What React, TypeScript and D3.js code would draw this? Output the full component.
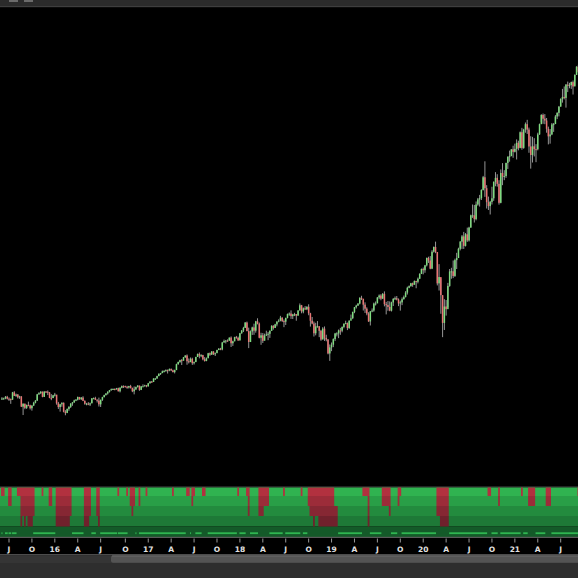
import React from "react";
import * as d3 from "d3";

// ---- Weekly bars (Friday-dated), first bar week ending 2015-06-05 ----
const FIRST_WEEK = "2015-06-05";
const firstOpen = 108.2;

const close2015 = [108.6,108.7,110.0,108.4,108.1,107.6,113.6,110.8,111.8,109.5,110.3,101.9,104.3,100.9,103.3,103.0,100.6,102.8,105.1,106.9,112.0,113.0,114.2,109.9,114.3,114.1,113.5,109.1,108.9,111.2,111.8];
const high2015 = [109.7,109.3,110.6,110.8,109.5,108.6,114.0,114.6,112.6,112.3,110.8,110.5,104.6,104.4,103.6,106.0,103.5,103.0,105.9,107.3,112.4,113.8,114.6,114.3,114.5,114.7,115.2,113.9,112.2,111.6,113.2];
const low2015 = [107.4,107.6,108.0,107.8,106.6,104.2,107.5,110.6,109.9,108.6,108.3,101.6,95.0,99.8,100.0,102.2,99.6,98.6,102.4,104.6,106.5,111.6,112.2,109.6,110.0,113.2,111.4,108.8,107.2,109.0,110.2];

const close2016 = [104.6,101.6,103.8,105.0,97.7,96.6,100.0,101.7,104.4,105.4,107.0,107.6,109.8,108.0,109.3,106.7,104.3,104.4,103.6,104.6,108.7,108.9,107.6,106.8,103.8,107.5,109.7,111.4,112.7,114.0,115.4,116.2,116.4,116.2,117.0,114.5,117.4,118.8,118.7,118.2,117.6,118.8,117.3,114.5,116.1,118.0,119.3,115.7,118.5,118.6,119.4,118.5];
const high2016 = [111.4,105.8,104.2,105.5,105.4,99.0,100.4,102.3,104.8,105.6,107.6,108.2,110.2,109.9,109.8,110.4,107.0,105.0,105.6,105.2,109.0,109.4,110.0,107.9,109.3,107.7,110.0,111.7,113.0,114.6,115.6,116.8,116.9,116.9,117.3,117.5,117.9,119.3,119.4,119.1,119.0,119.0,119.8,117.5,118.5,118.4,119.4,119.0,118.9,120.2,119.9,119.7];
const low2016 = [103.5,100.0,97.8,101.8,97.2,94.8,97.2,98.5,100.8,102.6,105.0,106.4,107.0,107.6,107.3,106.4,103.5,103.0,103.1,102.4,104.8,108.0,107.4,105.3,102.0,101.6,106.6,109.5,111.0,111.8,113.5,115.0,115.6,115.3,115.8,114.4,113.6,117.0,117.2,117.7,116.6,116.8,116.8,113.8,112.0,115.5,117.6,114.9,115.5,118.2,118.5,117.8];

const close2017 = [121.1,122.5,122.2,125.0,125.0,127.0,128.9,129.5,130.9,131.3,131.9,131.6,132.8,131.7,130.3,131.9,136.8,138.6,140.1,139.6,142.5,143.9,139.2,138.4,141.2,137.6,138.5,142.7,145.2,143.8,144.2,140.8,139.4,141.6,145.8,144.6,147.2,144.9,145.8,148.4,149.5,148.9,154.6,155.8,156.2,156.0,158.6,154.0,155.6,159.0,158.4,156.2];
const high2017 = [121.4,122.8,123.0,125.2,125.5,127.3,129.2,129.6,131.6,131.8,132.5,132.4,133.3,133.3,132.3,132.3,137.2,138.9,140.4,141.0,142.7,144.2,144.8,141.5,142.3,142.1,139.0,142.9,145.5,146.4,145.0,144.5,142.6,142.3,146.1,146.4,147.6,147.5,146.4,148.7,150.0,150.2,155.1,157.0,156.7,157.2,158.8,159.6,156.1,159.3,160.0,159.4];
const low2017 = [118.6,120.9,121.6,122.1,123.9,124.8,126.9,127.9,129.4,130.0,130.7,129.1,131.0,131.1,130.0,129.2,132.9,136.3,137.9,136.1,139.9,141.9,136.3,137.4,138.6,136.2,136.5,138.8,142.7,141.6,142.5,140.0,138.9,139.2,142.2,143.6,144.5,144.4,143.5,146.2,148.4,148.3,148.2,154.5,153.8,155.2,156.4,150.9,151.8,155.6,157.8,156.1];

const close2018 = [162.2,164.5,166.6,171.0,164.0,155.0,163.7,167.0,164.3,172.0,170.0,158.5,160.5,156.0,160.3,161.2,161.8,164.2,168.3,166.6,169.5,171.8,172.6,175.0,172.2,171.7,174.8,178.0,178.4,176.3,177.6,177.9,176.6,180.9,185.2,180.1,182.7,181.9,183.9,178.6,172.5,170.2,162.2,167.8,168.0,164.2,157.0,166.0,158.4,157.0,145.6,150.6];
const high2018 = [162.5,164.9,167.5,171.4,171.8,166.8,164.5,167.6,170.1,172.4,174.5,171.0,162.6,162.4,161.9,164.3,163.3,164.6,168.8,168.8,170.0,172.0,173.7,176.5,175.3,173.5,175.0,178.4,179.3,181.0,178.2,179.0,178.0,181.2,186.7,185.5,183.4,184.5,184.4,186.0,179.0,175.6,171.8,170.8,172.2,167.9,165.0,167.2,167.8,161.0,157.5,153.0];
const low2018 = [156.6,161.8,163.2,166.7,163.8,150.0,155.5,160.8,160.9,162.7,169.5,158.0,152.7,154.2,157.1,160.0,156.5,158.4,164.2,165.2,166.5,167.9,171.2,172.0,171.5,167.2,169.0,174.4,176.5,174.0,173.9,176.3,172.5,176.9,181.0,178.6,178.6,181.3,181.2,177.0,167.7,169.6,159.5,160.5,166.8,159.0,156.0,157.6,155.9,155.6,144.9,139.5];

const close2019 = [152.8,157.4,162.0,162.1,164.5,164.3,167.4,170.0,170.6,166.5,172.5,174.6,179.7,183.6,184.9,186.6,191.3,190.6,185.7,182.4,178.4,171.9,180.2,180.9,186.6,186.7,191.6,193.2,190.6,194.6,186.1,185.4,183.8,180.8,187.5,190.4,191.0,189.9,186.7,187.6,190.2,191.9,195.6,199.6,200.9,203.3,202.0,205.1,204.5,207.0,211.0,215.0];
const high2019 = [154.6,158.0,162.5,163.0,165.3,166.6,167.8,170.3,172.5,171.0,172.9,177.6,180.0,183.8,185.6,186.9,191.8,193.0,189.2,187.6,183.5,179.5,180.4,182.6,187.4,188.3,192.0,194.1,194.3,195.2,196.6,188.0,188.7,188.4,188.1,191.2,192.4,192.8,190.8,189.0,191.6,193.2,196.8,200.5,201.5,203.6,203.8,205.6,205.3,208.0,211.5,215.4];
const low2019 = [147.5,150.8,155.8,159.6,158.2,160.9,163.0,166.3,169.6,164.8,165.8,174.4,173.8,178.7,182.5,184.7,185.9,189.5,180.9,178.9,177.0,171.6,168.6,179.5,179.9,185.0,187.8,190.2,189.3,190.5,184.3,177.7,180.7,180.3,180.1,184.6,189.5,189.2,184.5,180.8,185.3,189.9,191.7,194.0,199.2,200.5,200.4,202.4,199.2,203.2,206.9,210.9];

const close2020 = [214.0,218.0,224.1,222.0,215.3,229.2,233.1,229.0,203.2,208.4,193.5,170.7,184.2,182.0,201.1,213.0,213.1,209.3,222.3,224.0,231.6,237.5,241.8,234.0,243.5,238.5,249.0,259.1,259.1,256.0,268.0,272.2,273.2,279.9,290.4,281.4,269.9,266.7,270.2,273.1,286.6,289.9,285.0,269.4,293.9,290.9,291.4,302.2,307.2,307.8,313.3,311.3,313.7];
const high2020 = [216.2,218.4,224.4,225.1,225.6,230.5,233.5,237.5,227.4,219.0,207.4,193.4,190.2,189.5,203.6,215.0,216.0,222.0,223.5,228.3,232.5,237.9,242.9,245.5,244.5,249.0,249.7,259.7,268.0,267.6,270.5,273.4,275.9,280.5,291.5,303.5,283.9,274.5,271.0,282.6,287.0,294.6,292.9,288.0,296.8,302.0,296.2,302.3,307.6,312.3,313.6,316.3,318.0];
const low2020 = [210.6,211.9,217.1,220.0,214.8,214.9,228.5,228.0,201.5,197.3,178.2,159.0,164.9,176.7,183.5,200.4,207.0,207.5,208.5,215.0,225.0,230.3,231.5,231.5,233.5,237.3,237.6,249.0,257.0,253.2,255.0,267.0,266.3,271.7,279.5,274.3,264.7,263.5,259.8,268.0,271.0,283.0,282.7,267.9,269.0,283.9,288.0,289.9,297.2,303.2,307.7,306.4,310.8];

const close2021 = [318.7,314.3,327.4,314.5,329.6,334.0,329.6,315.7,308.7,315.8,313.5,313.4,325.6,334.0,341.6,338.5,337.0,330.2,324.0,325.6,333.8,334.1,340.3,343.3,348.4,354.7,356.4,355.6,366.5,365.6,366.2,368.6,365.0,374.5,381.3,377.0];
const high2021 = [321.5,320.4,328.0,331.0,330.2,335.4,337.6,331.2,324.1,323.6,322.5,317.6,327.0,334.5,342.2,342.8,342.3,339.1,332.0,330.0,335.0,335.0,341.5,343.8,349.0,355.3,363.0,365.0,367.0,369.0,368.0,369.0,369.9,375.0,381.6,382.8];
const low2021 = [305.0,312.5,314.9,313.0,313.8,327.0,326.0,310.5,297.5,302.5,307.5,302.8,312.5,325.2,335.8,334.3,334.0,327.0,317.4,318.0,325.0,327.7,334.7,338.2,340.4,348.5,351.7,354.4,347.6,360.4,363.5,363.0,358.4,365.6,374.5,376.0];

// ---- Lower trend panel: weeks (bar indices) where each band is red ----
const redBand1 = [[0,1],[4,5],[9,18],[23,23],[27,28],[31,39],[47,50],[54,55],[66,66],[71,71],[73,75],[78,78],[82,82],[97,97],[105,106],[108,109],[114,115],[134,134],[139,140],[146,151],[160,160],[170,170],[174,188],[205,208],[216,220],[225,226],[247,253],[276,277],[282,282],[295,295],[299,302],[309,311],[327,327]];
const redBand2 = [[4,5],[11,18],[27,28],[31,39],[47,50],[54,55],[73,75],[78,78],[108,108],[140,140],[146,151],[174,188],[208,208],[216,220],[225,225],[247,253],[282,282],[299,302],[309,311]];
const redBand3 = [[11,18],[31,39],[47,50],[54,55],[74,74],[140,140],[146,148],[175,190],[208,208],[220,220],[247,253]];
const redBand4 = [[11,11],[13,13],[15,17],[31,38],[47,49],[55,55],[177,177],[180,190],[208,208],[249,253]];
const signalRuns = [[0,0],[2,3],[4,5],[6,8],[18,30],[40,46],[51,53],[56,65],[66,71],[76,76],[78,104],[107,107],[110,113],[117,133],[135,138],[141,145],[152,159],[161,169],[171,173],[191,204],[209,215],[221,224],[227,246],[254,275],[278,281],[283,294],[296,298],[303,308],[312,327]];

const quarterLetters: Record<number, string> = { 3: "A", 6: "J", 9: "O" };

const closes = [...close2015, ...close2016, ...close2017, ...close2018, ...close2019, ...close2020, ...close2021];
const highs = [...high2015, ...high2016, ...high2017, ...high2018, ...high2019, ...high2020, ...high2021];
const lows = [...low2015, ...low2016, ...low2017, ...low2018, ...low2019, ...low2020, ...low2021];

const W = 578;
const H = 578;

export default function App() {
  const n = closes.length;
  const start = new Date(FIRST_WEEK + "T00:00:00");
  const dates = d3.range(n).map((i) => d3.timeDay.offset(start, 7 * i));
  const bars = dates.map((d, i) => ({
    date: d,
    i,
    o: i === 0 ? firstOpen : closes[i - 1],
    h: highs[i],
    l: lows[i],
    c: closes[i],
  }));

  const step = 1.7626;
  const x = d3
    .scaleBand<number>()
    .domain(d3.range(n))
    .range([1.95 - step / 2, 1.95 - step / 2 + step * n])
    .paddingInner(0)
    .paddingOuter(0);
  const cx = (i: number) => (x(i) as number) + x.bandwidth() / 2;

  const y = d3.scaleLinear().domain([109, 381]).range([398, 67]);

  // ticks: first bar of Jan/Apr/Jul/Oct
  const ticks: { i: number; label: string }[] = [];
  for (let i = 1; i < n; i++) {
    const m = dates[i].getMonth();
    if (m !== dates[i - 1].getMonth() && m % 3 === 0) {
      ticks.push({
        i,
        label: m === 0 ? d3.timeFormat("%y")(dates[i]) : quarterLetters[m],
      });
    }
  }

  const bandTop = [487.5, 496, 506, 516, 526.5, 537];
  const greens = ["#30b350", "#299f47", "#238b3e", "#1e7937", "#145a29"];
  const reds = ["#b2313f", "#9c2c39", "#862733", "#70212c"];
  const redBands = [redBand1, redBand2, redBand3, redBand4];

  const runX = (a: number, b: number) => ({
    x0: x(a) as number,
    x1: (x(b) as number) + x.bandwidth(),
  });

  return (
    <svg
      width={W}
      height={H}
      style={{ position: "absolute", left: 0, top: 0, display: "block", background: "#000" }}
    >
      <defs>
        <clipPath id="plot">
          <rect x={0} y={8} width={W} height={478} />
        </clipPath>
        <clipPath id="panel">
          <rect x={0} y={487} width={W} height={51} />
        </clipPath>
      </defs>
      <rect x={0} y={0} width={W} height={H} fill="#000" />

      {/* top toolbar strip */}
      <rect x={0} y={0} width={W} height={6} fill="#2b2b2b" />
      <rect x={0} y={6} width={W} height={1.2} fill="#3e3e3e" />
      <rect x={9} y={0} width={9} height={2} fill="#6b6b6b" />
      <rect x={24} y={0} width={9} height={2} fill="#6b6b6b" />

      {/* candles */}
      <g clipPath="url(#plot)">
        {bars.map((b) => (
          <line
            key={"w" + b.i}
            x1={cx(b.i)}
            x2={cx(b.i)}
            y1={y(b.h)}
            y2={y(b.l)}
            stroke="#959595"
            strokeWidth={1}
          />
        ))}
        {bars.map((b) => {
          const up = b.c >= b.o;
          const top = y(Math.max(b.o, b.c));
          const hgt = Math.max(1, Math.abs(y(b.o) - y(b.c)));
          return (
            <rect
              key={"b" + b.i}
              x={cx(b.i) - 0.75}
              y={top}
              width={1.5}
              height={hgt}
              fill={up ? "#7fdc80" : "#ea7474"}
            />
          );
        })}
      </g>

      {/* lower trend panel */}
      <rect x={0} y={486.5} width={W} height={1} fill="#4a4a4a" />
      <g clipPath="url(#panel)">
        {greens.map((g, k) => (
          <rect key={"g" + k} x={0} y={bandTop[k]} width={W} height={bandTop[k + 1] - bandTop[k]} fill={g} />
        ))}
        {redBands.map((runs, k) =>
          runs.map(([a, b], j) => {
            const r = runX(a, b);
            return (
              <rect
                key={"r" + k + "_" + j}
                x={r.x0}
                y={bandTop[k]}
                width={r.x1 - r.x0}
                height={bandTop[k + 1] - bandTop[k]}
                fill={reds[k]}
              />
            );
          })
        )}
        {signalRuns.map(([a, b], j) => {
          const r = runX(a, b);
          return (
            <rect
              key={"s" + j}
              x={r.x0 + 0.4}
              y={532.3}
              width={Math.max(1, r.x1 - r.x0 - 0.8)}
              height={1.8}
              fill="#2fb651"
            />
          );
        })}
      </g>
      <rect x={0} y={536.8} width={W} height={1.2} fill="#5a5a5a" />

      {/* time axis */}
      <g>
        {ticks.map((t) => (
          <g key={"t" + t.i} transform={`translate(${cx(t.i)},0)`}>
            <line y1={538.5} y2={542.5} stroke="#9a9a9a" strokeWidth={1} />
            <text
              y={551.5}
              textAnchor="middle"
              fontFamily="'DejaVu Sans', sans-serif"
              fontSize={7.5}
              fontWeight="bold"
              fill="#e2e2e2"
            >
              {t.label}
            </text>
          </g>
        ))}
      </g>

      {/* scroll bar */}
      <rect x={0} y={554} width={W} height={1.2} fill="#4c4c4c" />
      <rect x={0} y={555.2} width={W} height={H - 555.2} fill="#2e2e2e" />
      <rect x={0} y={555.2} width={W} height={8} fill="#353535" />
      <rect x={111} y={555.5} width={W - 111 + 4} height={7.3} rx={2} fill="#545454" />
      <rect x={112} y={555.5} width={W - 112} height={1} fill="#6a6a6a" />
    </svg>
  );
}
